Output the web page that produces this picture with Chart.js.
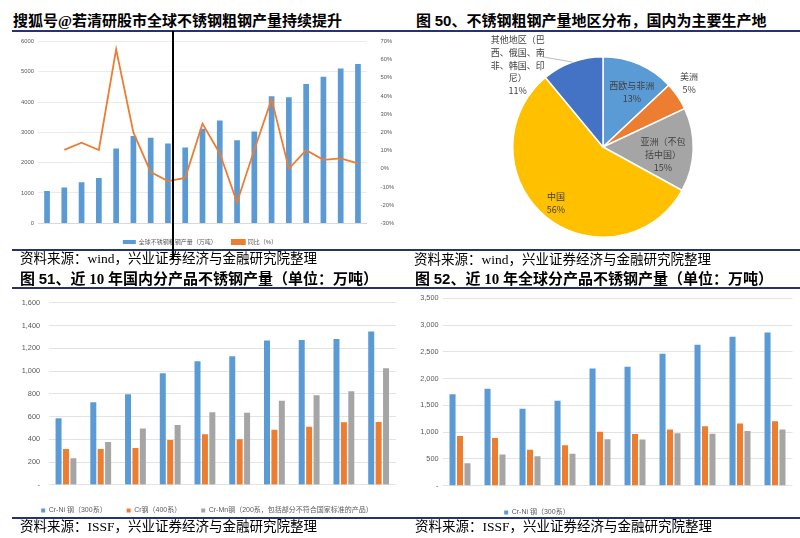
<!DOCTYPE html>
<html>
<head>
<meta charset="utf-8">
<script src="https://cdn.jsdelivr.net/npm/chart.js@4.4.1/dist/chart.umd.min.js"></script>
<style>
body{margin:0;width:800px;height:538px;background:#fff;position:relative;overflow:hidden;font-family:"Noto Sans CJK SC",sans-serif}
.title{position:absolute;font-size:15px;font-weight:700;line-height:18px;color:#000;white-space:nowrap;font-family:"Liberation Serif","Noto Sans CJK SC",serif}
.title .n{font-family:"Liberation Sans","Noto Sans CJK SC",sans-serif}
.src{position:absolute;font-size:13.5px;line-height:18px;color:#000;white-space:nowrap;font-family:"Liberation Serif","Noto Sans CJK SC",serif}
.rule{position:absolute;height:2px;background:#27336f}
canvas{position:absolute}
</style>
</head>
<body>
<div class="title" style="left:13px;top:12px">搜狐号@若清研股市全球不锈钢粗钢产量持续提升</div>
<div class="title" style="left:416px;top:12px">图 <span class="n">50</span>、不锈钢粗钢产量地区分布，国内为主要生产地</div>
<div class="rule" style="left:12px;top:30px;width:788px"></div>

<canvas id="c1" width="400" height="223" style="left:0;top:32px"></canvas>
<canvas id="c2" width="400" height="218" style="left:400px;top:32px"></canvas>

<div class="rule" style="left:12px;top:249px;width:788px"></div>
<div class="src" style="left:20px;top:250px">资料来源：wind，兴业证券经济与金融研究院整理</div>
<div class="src" style="left:414px;top:251px">资料来源：wind，兴业证券经济与金融研究院整理</div>

<div class="title" style="left:20px;top:270px">图 <span class="n">51</span>、近 10 年国内分产品不锈钢产量（单位：万吨）</div>
<div class="title" style="left:415px;top:270px">图 <span class="n">52</span>、近 10 年全球分产品不锈钢产量（单位：万吨）</div>
<div class="rule" style="left:12px;top:287px;width:788px"></div>

<canvas id="c3" width="400" height="234" style="left:0;top:290px"></canvas>
<canvas id="c4" width="400" height="236" style="left:400px;top:290px"></canvas>

<div class="rule" style="left:12px;top:517px;width:788px"></div>
<div class="src" style="left:20px;top:518px">资料来源：ISSF，兴业证券经济与金融研究院整理</div>
<div class="src" style="left:415px;top:518px">资料来源：ISSF，兴业证券经济与金融研究院整理</div>

<div style="position:absolute;left:172px;top:31px;width:1.5px;height:229px;background:#000"></div>

<script>
// fig 49: global crude stainless output
const years = ['2001','2002','2003','2004','2005','2006','2007','2008','2009','2010','2011','2012','2013','2014','2015','2016','2017','2018','2019'];
const output = [1070,1180,1355,1495,2470,2880,2825,2630,2500,3120,3390,2740,3030,4190,4160,4600,4840,5110,5260];
const yoy = [null,10.4,14.3,10.3,65.7,20,-1.8,-6.8,-5,24.8,8.4,-18.4,10.5,38.3,0,10.2,4.9,5.7,3];

// fig 50: output by region
const regions = ['西欧与非洲','美洲','亚洲（不包括中国）','中国','其他地区（巴西、俄国、南非、韩国、印尼）'];
const regionShare = [13,5,15,56,11];

// fig 51 / 52: output by product
const decade = ['2010年','2011年','2012年','2013年','2014年','2015年','2016年','2017年','2018年','2019年'];
const cnCrNi = [586,726,796,981,1087,1132,1269,1275,1283,1350];
const cnCr = [314,314,323,395,445,401,485,510,550,552];
const cnCrMn = [233,376,496,527,639,634,740,787,824,1025];
const wCrNi = [1710,1813,1436,1588,2192,2223,2467,2632,2784,2864];
const wCr = [929,892,672,758,1007,965,1051,1112,1161,1203];
const wCrMn = [421,581,549,599,868,861,978,971,1020,1051];

const BLUE = '#5B9BD5', ORANGE = '#ED7D31', GRAY = '#A5A5A5', GOLD = '#FFC000', DBLUE = '#4472C4';
const FONT = "'Liberation Sans','Noto Sans CJK SC',sans-serif";
const TICK = '#595959';

Chart.defaults.animation = false;
Chart.defaults.font.family = FONT;
Chart.defaults.plugins.tooltip.enabled = false;

// chart 1
new Chart(document.getElementById('c1'), {
  type: 'bar',
  data: {
    labels: years,
    datasets: [
      { label: '全球不锈钢粗钢产量（万吨）', data: output, backgroundColor: BLUE, order: 1,
        barPercentage: 0.33, categoryPercentage: 1, yAxisID: 'y' },
      { type: 'line', label: '同比（%）', data: yoy, borderColor: ORANGE, backgroundColor: ORANGE,
        borderWidth: 1.8, pointRadius: 0, tension: 0, order: 0, yAxisID: 'y1' }
    ]
  },
  options: {
    responsive: false,
    layout: { padding: { top: 5, left: 0, right: 0, bottom: 0 } },
    scales: {
      x: { grid: { display: false }, border: { color: '#D9D9D9' },
        ticks: { color: TICK, font: { size: 5.8 }, padding: 3.5, maxRotation: 0, autoSkip: false },
        afterFit: s => { s.height = 0.7; } },
      y: { min: 0, max: 6000, ticks: { stepSize: 1000, color: TICK, font: { size: 5.8 }, padding: 4.5, callback: v => String(v) },
        grid: { color: '#E3E3E3', lineWidth: 0.75, drawTicks: false }, border: { display: false },
        afterFit: s => { s.width = 38.4; } },
      y1: { position: 'right', min: -30, max: 70, grid: { display: false }, border: { display: false },
        ticks: { stepSize: 10, color: TICK, font: { size: 5.8 }, padding: 6, callback: v => v + '%' },
        afterFit: s => { s.width = 33.4; } }
    },
    plugins: {
      legend: { position: 'bottom', reverse: true,
        labels: { boxWidth: 13, boxHeight: 4, padding: 15, color: TICK, font: { size: 6 } } }
    }
  }
});

// chart 2: pie with outside/inside labels
const piePlace = [
  { r: 0.685, da: 4.4, w: 5 },
  { r: 1.19, da: -2.5, w: 5 },
  { r: 0.67, da: 5.3, w: 5 },
  { r: 0.81, da: 0.4, w: 5 },
  { r: 1.31, da: -26.4, w: 6, leader: { r: 1.2, da: -13.9 } }
];
function wrap(text, n) {
  const out = [];
  for (let i = 0; i < text.length; i += n) out.push(text.slice(i, i + n));
  return out;
}
const pieLabels = {
  id: 'pieLabels',
  afterDatasetsDraw(chart) {
    const ctx = chart.ctx;
    const meta = chart.getDatasetMeta(0);
    ctx.save();
    ctx.textAlign = 'center';
    ctx.textBaseline = 'middle';
    meta.data.forEach((arc, i) => {
      const p = arc.getProps(['x', 'y', 'startAngle', 'endAngle', 'outerRadius'], true);
      const pl = piePlace[i];
      const mid = (p.startAngle + p.endAngle) / 2;
      const a = mid + pl.da * Math.PI / 180;
      const cx = p.x + Math.cos(a) * p.outerRadius * pl.r;
      const cy = p.y + Math.sin(a) * p.outerRadius * pl.r;
      if (pl.leader) {
        const b = mid + pl.leader.da * Math.PI / 180;
        ctx.strokeStyle = '#A6A6A6';
        ctx.lineWidth = 0.75;
        ctx.beginPath();
        ctx.moveTo(p.x + Math.cos(mid) * p.outerRadius, p.y + Math.sin(mid) * p.outerRadius);
        ctx.lineTo(p.x + Math.cos(b) * p.outerRadius * pl.leader.r, p.y + Math.sin(b) * p.outerRadius * pl.leader.r);
        ctx.stroke();
      }
      const lines = wrap(regions[i], pl.w).concat(regionShare[i] + '%');
      ctx.fillStyle = '#404040';
      ctx.font = "9px 'Noto Sans CJK SC','Liberation Sans',sans-serif";
      lines.forEach((t, k) => {
        ctx.fillText(t, cx, cy + (k - (lines.length - 1) / 2) * 12.8);
      });
    });
    ctx.restore();
  }
};
new Chart(document.getElementById('c2'), {
  type: 'pie',
  data: {
    labels: regions,
    datasets: [{ data: regionShare, backgroundColor: [BLUE, ORANGE, GRAY, GOLD, DBLUE],
      borderColor: '#fff', borderWidth: 1.5 }]
  },
  options: {
    responsive: false,
    layout: { padding: { left: 112, right: 106, top: 24, bottom: 12 } },
    plugins: { legend: { display: false } }
  },
  plugins: [pieLabels]
});

// charts 3 & 4: grouped bars
function productChart(id, series, names, opt) {
  return new Chart(document.getElementById(id), {
    type: 'bar',
    data: {
      labels: decade,
      datasets: series.map((d, i) => ({ label: names[i], data: d, backgroundColor: [BLUE, ORANGE, GRAY][i],
        barPercentage: 0.81, categoryPercentage: 0.64 }))
    },
    options: {
      responsive: false,
      layout: { padding: { top: 4.3, left: opt.padL, right: opt.padR, bottom: 0 } },
      scales: {
        x: { grid: { display: false }, border: { display: false },
          ticks: { color: TICK, font: { size: 7 }, padding: opt.xPad, maxRotation: 0, autoSkip: false },
          afterFit: s => { s.height = opt.xH; } },
        y: { min: 0, max: opt.max, grid: { color: '#D9D9D9', lineWidth: 0.75, drawTicks: false }, border: { display: false },
          ticks: { stepSize: opt.step, color: TICK, font: { size: 7.3 }, padding: opt.yPad,
            callback: v => v === 0 ? '-' : v.toLocaleString('en-US') },
          afterFit: s => { s.width = opt.yW; } }
      },
      plugins: {
        legend: { position: 'bottom', fullSize: opt.fullLegend,
          labels: { boxWidth: 4, boxHeight: 4, padding: 20, color: TICK, font: { size: 7 },
            generateLabels: chart => {
              const items = Chart.defaults.plugins.legend.labels.generateLabels(chart);
              items.forEach((it, i) => {
                if (i >= opt.shown) { it.fillStyle = 'rgba(0,0,0,0)'; it.strokeStyle = 'rgba(0,0,0,0)'; it.fontColor = 'rgba(0,0,0,0)'; }
              });
              return items;
            } } }
      }
    }
  });
}
productChart('c3', [cnCrNi, cnCr, cnCrMn],
  ['Cr-Ni 钢（300系）', 'Cr钢（400系）', 'Cr-Mn钢（200系，包括部分不符合国家标准的产品）'],
  { max: 1600, step: 200, padL: 18, padR: 4, yW: 30.6, yPad: 8.6, xPad: 6, xH: 2.2, shown: 3, fullLegend: true });
productChart('c4', [wCrNi, wCr, wCrMn],
  ['Cr-Ni 钢（300系）', 'Cr钢（400系）', 'Cr-Mn钢（200系）'],
  { max: 3500, step: 500, padL: 0, padR: 7.5, yW: 42.5, yPad: 4, xPad: 6.5, xH: 3.3, shown: 1, fullLegend: false });
</script>
</body>
</html>
